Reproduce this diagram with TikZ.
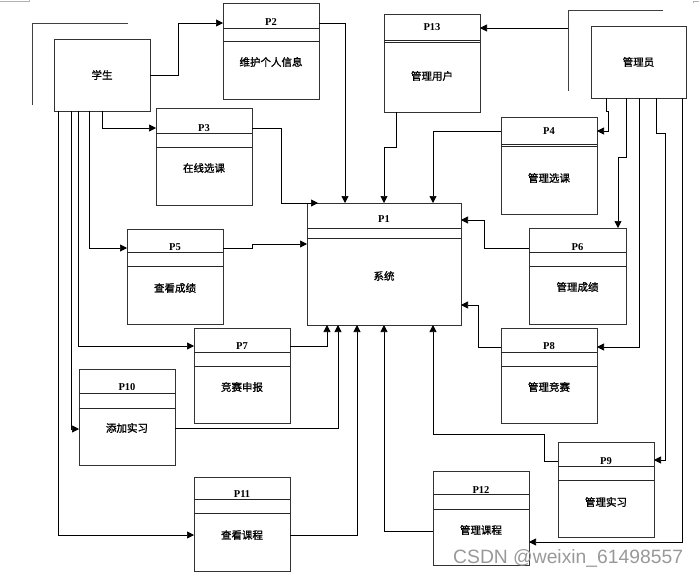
\documentclass[tikz,border=0pt]{standalone}
\usepackage{fontspec}
\setmainfont{Liberation Serif}
\newfontfamily\cjk{Noto Sans CJK SC}[FakeBold=1.2]
\newfontfamily\wmfont{Liberation Sans}
\usetikzlibrary{arrows.meta,calc,fit}
\tikzset{
  boxst/.style={draw=black!80, line width=0.8pt, inner sep=0pt, outer sep=0pt},
  hline/.style={draw=black!85, line width=0.8pt},
  brk/.style={draw=black!75, line width=0.8pt},
  plab/.style={inner sep=0pt, font=\fontsize{10.5}{12}\selectfont\bfseries},
  ctext/.style={inner sep=0pt, font=\fontsize{10.5}{12}\selectfont\cjk},
  arr/.style={draw=black, line width=0.7pt, -{Triangle[length=7pt,width=7pt]}},
  ln/.style={draw=black!80, line width=0.7pt},
  wm/.style={inner sep=0pt, text=black!40, font=\fontsize{19.3}{22}\selectfont\wmfont}
}
% name, x1, y1, x2, y2, label, label y, line1 y, line2 y
\newcommand{\procbox}[9]{%
  \path (#2,#3) coordinate (#1-nw) (#4,#5) coordinate (#1-se);
  \node[boxst, fit=(#1-nw)(#1-se)] (#1) {};
  \draw[hline] (#1.north west |- 0,#8) -- (#1.north east |- 0,#8);
  \draw[hline] (#1.north west |- 0,#9) -- (#1.north east |- 0,#9);
  \node[plab] (#1-l) at (#1.north |- 0,#7) {#6};
}
\begin{document}
\begin{tikzpicture}[x=1pt, y=-1pt]
\useasboundingbox (0,0) rectangle (699,576);

% tiny marks at the top corners
\draw[black!30, line width=0.6pt] (0,1) -- (29,1) -- (29,0);
\draw[black!30, line width=0.6pt] (693,3) -- (693,1) -- (699,1);

% external entities
\path (54,39) coordinate (stu-nw) (150,111) coordinate (stu-se);
\node[boxst, fit=(stu-nw)(stu-se)] (stu) {};
\node[ctext] (stu-t) at (stu.center) {学生};
\draw[brk] (128,23) coordinate (stuB1) -- (32,23) -- (32,105) coordinate (stuB2);

\path (591,26) coordinate (adm-nw) (686,98) coordinate (adm-se);
\node[boxst, fit=(adm-nw)(adm-se)] (adm) {};
\node[ctext] (adm-t) at (adm.center) {管理员};
\draw[brk] (663,10) coordinate (admB1) -- (568,10) -- (568,91) coordinate (admB2);
\coordinate (admB3) at (568,28);

% processes
\procbox{P2}{223}{3}{319}{99}{P2}{22}{28}{41}
\node[ctext] (P2-t) at (P2.center |- 0,62) {维护个人信息};
\procbox{P13}{384}{14}{480}{112}{P13}{27}{40}{42}
\node[ctext] (P13-t) at (P13.center |- 0,76) {管理用户};
\procbox{P3}{156}{108}{252}{205}{P3}{128}{133}{147}
\node[ctext] (P3-t) at (P3.center |- 0,168) {在线选课};
\procbox{P4}{501}{117}{597}{214}{P4}{131}{144}{146}
\node[ctext] (P4-t) at (P4.center |- 0,178) {管理选课};
\procbox{P1}{307}{203}{461}{325}{P1}{219}{228}{238}
\node[ctext] (P1-t) at (P1.center |- 0,276) {系统};
\procbox{P5}{127}{229}{223}{324}{P5}{247}{252}{266}
\node[ctext] (P5-t) at (P5.center |- 0,288) {查看成绩};
\procbox{P6}{529}{228}{626}{324}{P6}{247}{252}{266}
\node[ctext] (P6-t) at (P6.center |- 0,287) {管理成绩};
\procbox{P7}{194}{328}{290}{423}{P7}{346}{352}{366}
\node[ctext] (P7-t) at (P7.center |- 0,387) {竞赛申报};
\procbox{P8}{501}{328}{597}{423}{P8}{346}{352}{366}
\node[ctext] (P8-t) at (P8.center |- 0,387) {管理竞赛};
\procbox{P10}{79}{369}{175}{465}{P10}{387}{393}{408}
\node[ctext] (P10-t) at (P10.center |- 0,428) {添加实习};
\procbox{P9}{558}{442}{654}{537}{P9}{461}{466}{480}
\node[ctext] (P9-t) at (P9.center |- 0,502) {管理实习};
\procbox{P11}{194}{477}{290}{571}{P11}{494}{499}{513}
\node[ctext] (P11-t) at (P11.center |- 0,535) {查看课程};
\procbox{P12}{433}{471}{529}{565}{P12}{490}{494}{509}
\node[ctext] (P12-t) at (P12.center |- 0,530) {管理课程};

% student connectors
\draw[arr] (stu.east) -- (178,75) |- (P2.west |- 0,23);
\draw[arr] (stu.south -| 102,0) |- (P3.west |- 0,128);
\draw[arr] (stu.south -| 89,0) |- (P5.west |- 0,248);
\draw[arr] (stu.south -| 78,0) |- (P7.west |- 0,346);
\draw[arr] (stu.south -| 71,0) |- (P10.west |- 0,429);
\draw[arr] (stu.south -| 58,0) |- (P11.west |- 0,535);

% into P1
\draw[arr] (P2.east |- 0,23) -| (P1.north -| 345,0);
\draw[arr] (P3.east |- 0,128) -| (P1.north -| 281,0) -- (P1.north -| 318,0);
\draw[arr] (P5.east |- 0,248) -- (252,248) -- (252,244) -- (P1.west |- 0,244);
\draw[arr] (P7.east |- 0,346) -| (P1.south -| 327,0);
\draw[arr] (P10.east |- 0,428) -| (P1.south -| 338,0);
\draw[arr] (P11.east |- 0,535) -| (P1.south -| 357,0);
\draw[arr] (P12.west |- 0,531) -| (P1.south -| 384,0);
\draw[arr] (P9.west |- 0,461) -- (544,461) -- (544,434) -| (P1.south -| 433,0);
\draw[arr] (P8.west |- 0,347) -- (478,347) |- (P1.east |- 0,305);
\draw[arr] (P6.west |- 0,248) -- (484,248) |- (P1.east |- 0,220);
\draw[arr] (P13.south -| 396,0) -- (396,147) -| (P1.north -| 384,0);
\draw[arr] (P4.west |- 0,131) -| (P1.north -| 433,0);

% admin connectors
\draw[arr] (admB3) -- (P13.east |- 0,28);
\draw[arr] (adm.south -| 606,0) -- (606,111) -- (608,111) |- (P4.east |- 0,131);
\draw[arr] (adm.south -| 626,0) -- (626,157) -- (618,157) -- (P6.north -| 618,0);
\draw[arr] (adm.south -| 639,0) |- (P8.east |- 0,347);
\draw[arr] (adm.south -| 656,0) -- (656,133) -- (665,133) |- (P9.east |- 0,460);
\draw[arr] (adm.south -| 682,0) |- (P12.east |- 0,542);

% watermark
\node[wm, anchor=base west] (wmk) at (453,563) {CSDN @weixin\_61498557};
\end{tikzpicture}
\end{document}
